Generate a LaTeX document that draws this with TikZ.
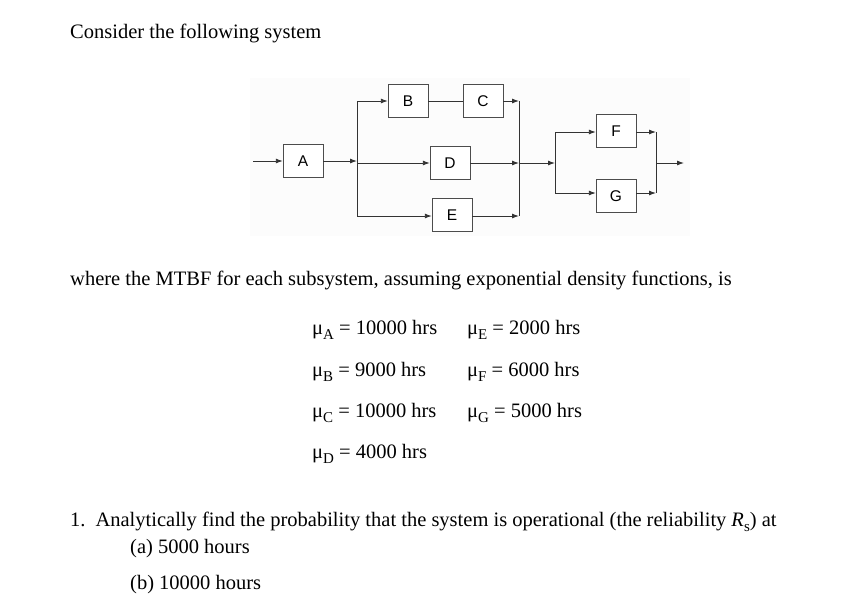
\documentclass[tikz,border=0pt]{standalone}
\usepackage{fontspec}
\setmainfont{Liberation Serif}
\setsansfont{Liberation Sans}
\usetikzlibrary{arrows.meta}
\begin{document}
\begin{tikzpicture}[x=1pt,y=-1pt,
  blk/.style={draw=black!70,fill=white,minimum width=40pt,minimum height=33pt,inner sep=0pt,font=\sffamily\fontsize{15.5}{15.5}\selectfont},
  ln/.style={draw=black!80,line width=0.9pt},
  ar/.style={ln,-{Latex[length=7pt,width=5pt]}},
  txt/.style={anchor=base west,inner sep=0pt,font=\fontsize{20.5}{22}\selectfont}]
\useasboundingbox (0,0) rectangle (864,606);
\fill[white] (0,0) rectangle (864,606);
\fill[gray!2] (250,78) rectangle (690,236);
\node[blk] (A) at (303,161) {A};
\node[blk] (B) at (408,101) {B};
\node[blk] (C) at (483,101) {C};
\node[blk] (D) at (450,163) {D};
\node[blk] (E) at (452,215) {E};
\node[blk] (F) at (616,131) {F};
\node[blk] (G) at (616,196) {G};
\coordinate (in) at (253,161);
\coordinate (L) at (357,161);
\coordinate (Lt) at (357,101);
\coordinate (Lb) at (357,216);
\coordinate (R) at (519,163);
\coordinate (Rt) at (519,101);
\coordinate (Rb) at (519,216);
\coordinate (M) at (555,163);
\coordinate (Mt) at (555,132);
\coordinate (Mb) at (555,193);
\coordinate (N) at (656,163);
\coordinate (Nt) at (656,132);
\coordinate (Nb) at (656,193);
\coordinate (out) at (684,163);
\draw[ar] (in) -- (A.west);
\draw[ar] (A.east) -- (L);
\draw[ln] (Lt) -- (Lb);
\draw[ar] (Lt) -- (B.west);
\draw[ln] (B.east) -- (C.west);
\draw[ar] (C.east) -- (Rt);
\draw[ar] (357,163) -- (D.west);
\draw[ar] (D.east) -- (R);
\draw[ar] (Lb) -- (E.west|-Lb);
\draw[ar] (E.east|-Rb) -- (Rb);
\draw[ln] (Rt) -- (Rb);
\draw[ar] (R) -- (M);
\draw[ln] (Mt) -- (Mb);
\draw[ar] (Mt) -- (F.west|-Mt);
\draw[ar] (Mb) -- (G.west|-Mb);
\draw[ar] (F.east|-Nt) -- (Nt);
\draw[ar] (G.east|-Nb) -- (Nb);
\draw[ln] (Nt) -- (Nb);
\draw[ar] (N) -- (out);
\newcommand{\mysub}[1]{\raisebox{-0.28em}{\fontsize{15}{15}\selectfont #1}}
\node[txt] (t1) at (70,38) {Consider the following system};
\node[txt] (t2) at (70,285) {where the MTBF for each subsystem, assuming exponential density functions, is};
\node[txt] (ma) at (312,334) {μ\mysub{A} = 10000 hrs};
\node[txt] (mb) at (312,376) {μ\mysub{B} = 9000 hrs};
\node[txt] (mc) at (312,417) {μ\mysub{C} = 10000 hrs};
\node[txt] (md) at (312,458) {μ\mysub{D} = 4000 hrs};
\node[txt] (me) at (467,334) {μ\mysub{E} = 2000 hrs};
\node[txt] (mf) at (467,376) {μ\mysub{F} = 6000 hrs};
\node[txt] (mg) at (467,417) {μ\mysub{G} = 5000 hrs};
\node[txt] (q1) at (70,526) {1.\hspace{10pt}Analytically find the probability that the system is operational (the reliability \textit{R}\mysub{s}) at};
\node[txt] (qa) at (130,553) {(a) 5000 hours};
\node[txt] (qb) at (130,589) {(b) 10000 hours};
\end{tikzpicture}
\end{document}
